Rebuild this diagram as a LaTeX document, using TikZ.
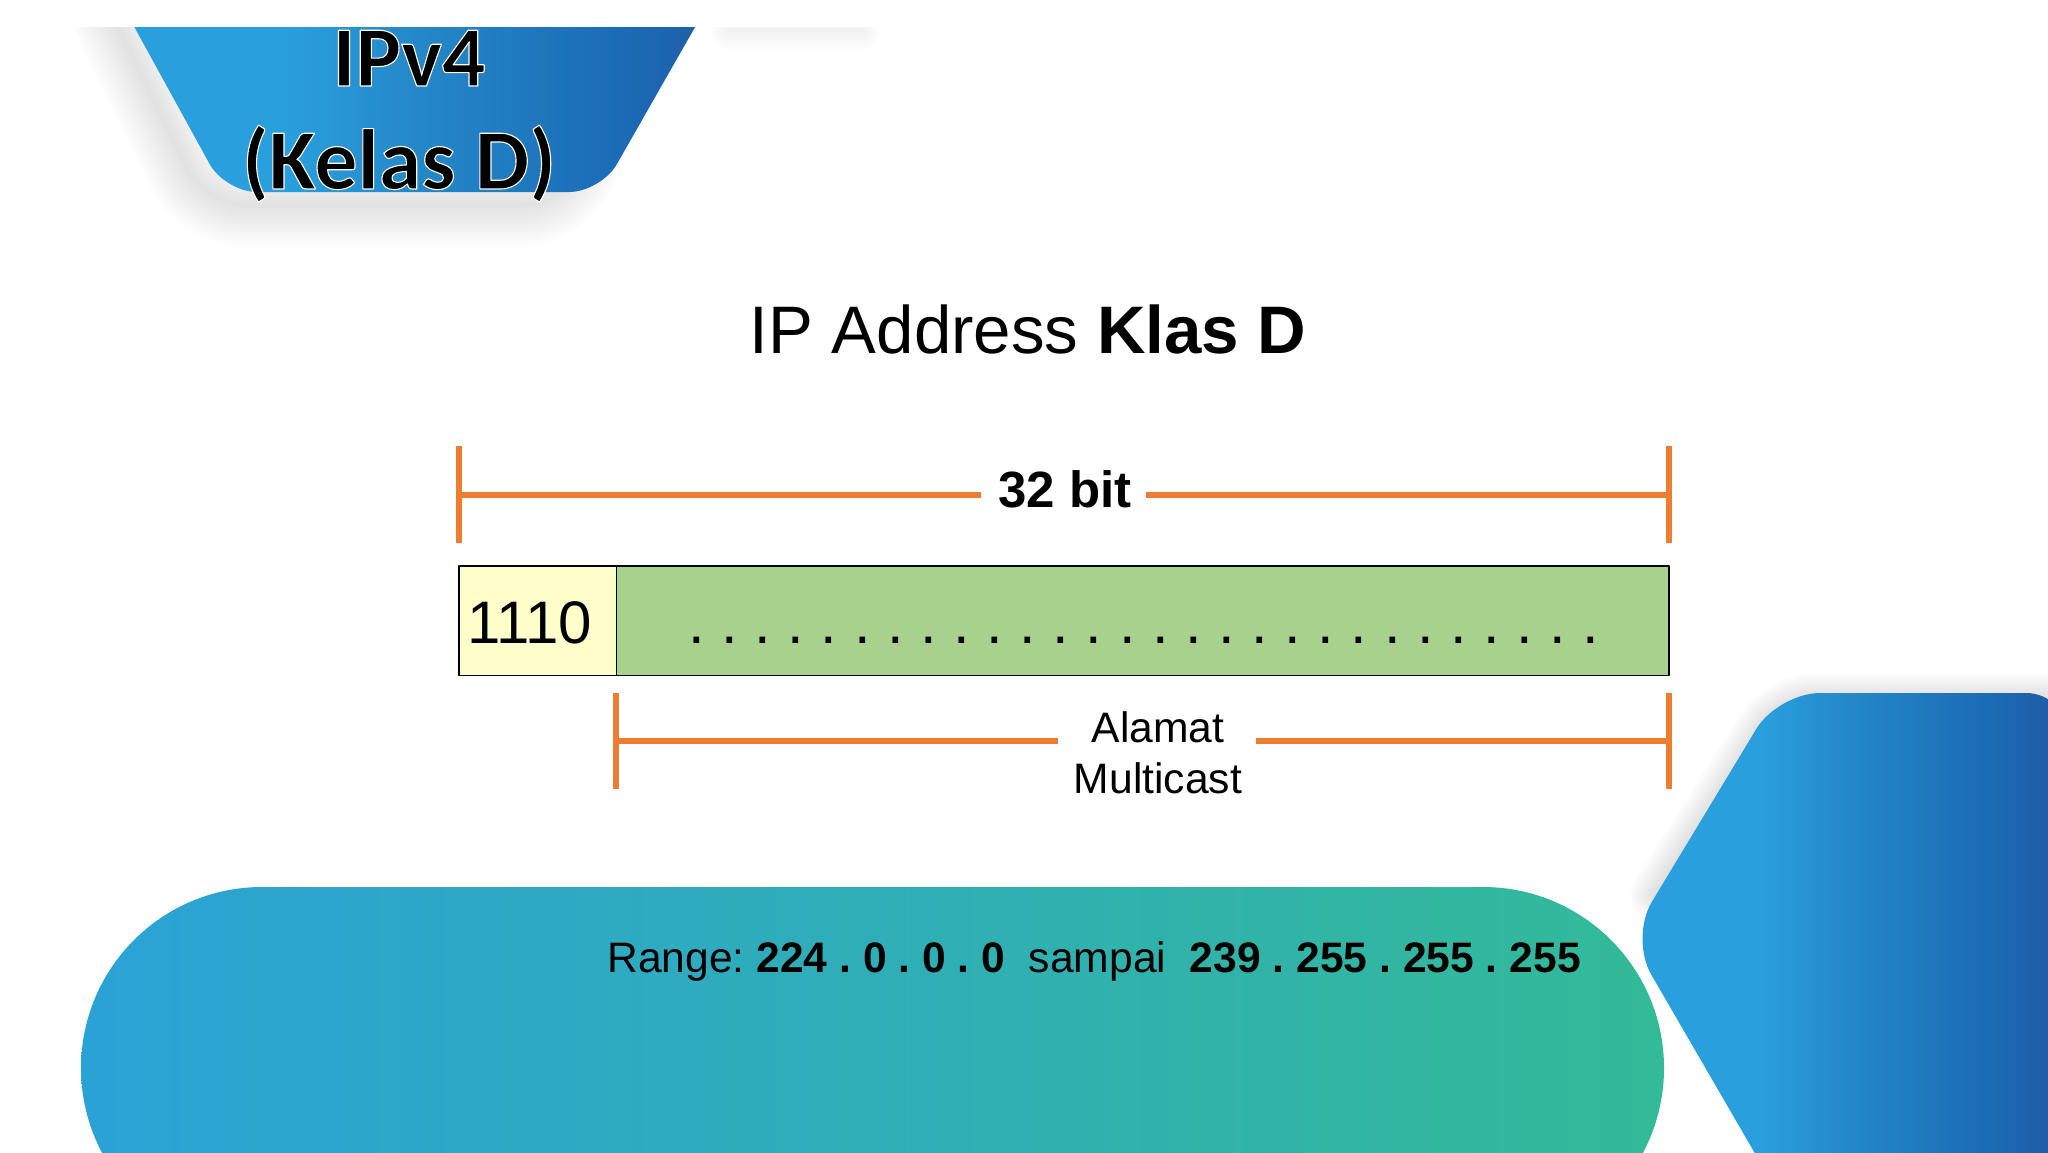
\documentclass[tikz,border=0pt]{standalone}
\usepackage{fontspec}
\setmainfont{Liberation Sans}
\newfontfamily\judulfont[FakeBold=1.3]{Carlito Bold}
\definecolor{garis}{HTML}{ED7D31}
\definecolor{kuning}{HTML}{FFFFCC}
\definecolor{hijau}{HTML}{A9D18E}
\definecolor{biruA}{HTML}{2A9FDD}
\definecolor{biruB}{HTML}{2488C8}
\definecolor{biruC}{HTML}{1B6DB7}
\definecolor{biruD}{HTML}{2059A4}
\definecolor{tealA}{HTML}{2BA2D6}
\definecolor{tosca}{HTML}{33BA98}
\pgfdeclarehorizontalshading{bluefade}{100bp}{color(0bp)=(biruA); color(25bp)=(biruA); color(40bp)=(biruA); color(50bp)=(biruB); color(65bp)=(biruC); color(75bp)=(biruD); color(100bp)=(biruD)}
\newcommand{\putihtepi}{\special{pdf:code 1 1 1 RG}}
\tikzset{
	ruler/.style={line width=3.2pt,color=garis},
	bitbox/.style={draw=black,line width=0.75pt,minimum height=54.8pt,inner sep=0pt,outer sep=0pt,anchor=north west},
	lbl/.style={anchor=base,inner sep=0pt,font=\fontsize{21.3}{25.5}\selectfont},
	judul/.style={anchor=base,inner sep=0pt,text=black,font=\judulfont\fontsize{43}{50}\selectfont},
	softshadow/.style={line width=#1,color=black,opacity=0.012,line join=round,line cap=round}
}
\begin{document}
\frenchspacing
\begin{tikzpicture}[line cap=butt,line join=round,x=0.5pt,y=-0.5pt]
	\useasboundingbox (0,0) rectangle (2048,1152);
	\clip (0,0) rectangle (2048,1152);
	\fill [white] (0,0) rectangle (2048,1152);
	% shadows first
	\begin{scope}
		\clip (0,27) rectangle (2048,1152);
		\foreach \w in {3,6,...,42} {
			\draw [softshadow=\w pt,opacity=0.009,rounded corners=20pt] (90,-30) -- (205,205) -- (560,205) -- (660,-30);
			\draw [softshadow=0.5*\w pt,opacity=0.003] (730,30) -- (860,30);
		}
	\end{scope}
	\foreach \w in {2.5,5,...,25} {
		\draw [softshadow=\w pt,rounded corners=18pt] (1655,895) -- (1780,698) -- (2100,698);
	}
	% header, wave and side
	\begin{scope}
		\clip (0,27) rectangle (2048,1152);
		\shade [shading=bluefade,rounded corners=16pt] (92,-50) -- (225,192) -- (601,192) -- (739,-50) -- cycle;
	\end{scope}
	\shade [left color=tealA,right color=tosca,rounded corners=90.5pt] (81,887) rectangle (1664,1249);
	\shade [shading=bluefade,rounded corners=21pt] (1840,1300) -- (1630,938) -- (1778,693) -- (2068,693) -- (2068,1300) -- cycle;
	% header text
	\node [judul] (ipv) at (409,86) {\putihtepi IPv4};
	\node [judul] (kelas) at (399,189) {\putihtepi (Kelas D)};
	% title
	\node [anchor=base,inner sep=0pt,font=\fontsize{33.6}{40}\selectfont] (title) at (1028,353) {IP Address \textbf{Klas D}};
	% 32 bit ruler
	\coordinate (atasL) at (459,446);
	\coordinate (atasLb) at (459,543);
	\coordinate (atasR) at (1669,446);
	\coordinate (atasRb) at (1669,543);
	\coordinate (atasM) at (459,495);
	\coordinate (atasN) at (1669,495);
	\node [anchor=base,inner sep=0pt,font=\bfseries\fontsize{25.5}{30}\selectfont] (bit) at (1065,507) {32 bit};
	\coordinate (putusL) at (981,495);
	\coordinate (putusR) at (1146,495);
	\draw [ruler] (atasL) -- (atasLb);
	\draw [ruler] (atasR) -- (atasRb);
	\draw [ruler] (atasM) -- (putusL);
	\draw [ruler] (atasN) -- (putusR);
	% address bar
	\node [bitbox,fill=kuning,minimum width=78.8pt] (prefix) at (459,566) {};
	\node [bitbox,fill=hijau,minimum width=526.2pt] (host) at (prefix.north east) {};
	\node [anchor=base,inner sep=0pt,font=\fontsize{30}{34}\selectfont] (nol) at (530,643) {1110};
	\node [anchor=base west,inner sep=0pt,font=\fontsize{29.8}{34}\selectfont] (titik) at (688,643) {. . . . . . . . . . . . . . . . . . . . . . . . . . . .};
	% multicast ruler
	\coordinate (bawahL) at (616,693);
	\coordinate (bawahLb) at (616,789);
	\coordinate (bawahR) at (1669,693);
	\coordinate (bawahRb) at (1669,789);
	\coordinate (bawahM) at (616,741);
	\coordinate (bawahN) at (1669,741);
	\node [lbl] (alamat) at (1158,742) {Alamat};
	\node [lbl] (multi) at (1158,793) {Multicast};
	\coordinate (potongL) at (1057.5,741);
	\coordinate (potongR) at (1256,741);
	\draw [ruler] (bawahL) -- (bawahLb);
	\draw [ruler] (bawahR) -- (bawahRb);
	\draw [ruler] (bawahM) -- (potongL);
	\draw [ruler] (bawahN) -- (potongR);
	% range
	\node [anchor=base west,inner sep=0pt,font=\fontsize{21.3}{25}\selectfont] (range) at (607,972) {Range: \textbf{224 . 0 . 0 . 0}\ \ sampai\ \ \textbf{239 . 255 . 255 . 255}};
\end{tikzpicture}
\end{document}
